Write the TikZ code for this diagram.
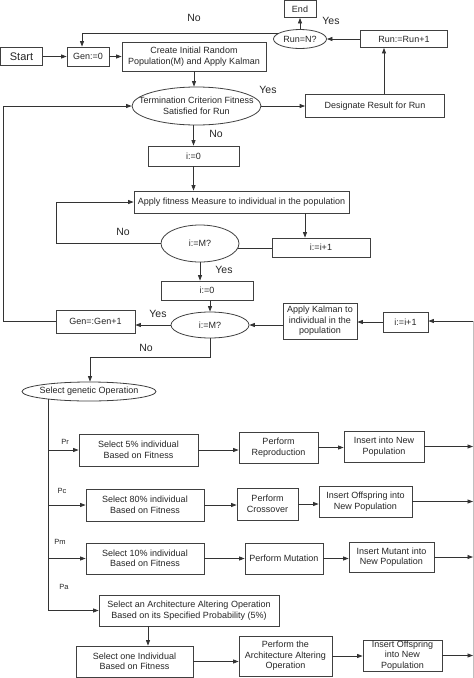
\documentclass[tikz,border=0pt]{standalone}
\usepackage{fontspec}
\setmainfont{Liberation Sans}
\usetikzlibrary{shapes.geometric,arrows.meta,calc}
\begin{document}
\begin{tikzpicture}[x=1pt,y=-1pt,
  every node/.style={font=\fontsize{9}{10.5}\selectfont, text=black!85},
  sz/.style 2 args={minimum width=#1pt, minimum height=#2pt},
  box/.style={draw=black!75, line width=0.8pt, fill=white, align=center, inner sep=0pt},
  ellip/.style={ellipse, draw=black!75, line width=0.8pt, fill=white, inner sep=0pt},
  txt/.style={align=center, inner sep=0pt},
  lbl/.style={font=\fontsize{10.5}{12}\selectfont, inner sep=0pt},
  plbl/.style={font=\fontsize{7.5}{9}\selectfont, inner sep=0pt},
  arr/.style={draw=black!80, line width=0.8pt, -{Triangle[length=5.5pt,width=4pt]}},
  ln/.style={draw=black!80, line width=0.8pt},
  rline/.style={draw=black!25, line width=0.8pt},
]
\useasboundingbox (0,0) rectangle (474,678);
\fill[white] (0,0) rectangle (474,678);

% ---------- top part ----------
\node[box, sz={32}{17}] (endb) at (300,9) {End};
\node[ellip, sz={53}{19}] (run) at (300,39) {};
\node[txt] (runt) at (run) {Run=N?};
\node[box, sz={87}{17}] (runinc) at (404,39) {Run:=Run+1};
\node[box, sz={42}{18}, font=\fontsize{11}{13}\selectfont] (start) at (21.5,56.5) {Start};
\node[box, sz={42}{19}] (gen0) at (88,56.5) {Gen:=0};
\node[box, sz={144}{29}] (create) at (194,56.5) {Create Initial Random\\Population(M) and Apply Kalman};
\node[ellip, sz={129}{38}] (term) at (196.5,106) {};
\node[txt] (termt) at (term) {Termination Criterion Fitness\\Satisfied for Run};
\node[box, sz={139}{23}] (desig) at (375,106) {Designate Result for Run};
\node[box, sz={91}{20}] (i0a) at (193.5,156) {i:=0};
\node[box, sz={215}{22}] (fit) at (241.5,202) {Apply fitness Measure to individual in the population};
\node[ellip, sz={78}{37}] (m1) at (200,243.5) {};
\node[txt] (m1t) at (m1) {i:=M?};
\node[box, sz={98}{19}] (iinc1) at (321,247.5) {i:=i+1};
\node[box, sz={92}{19}] (i0b) at (207,290.5) {i:=0};
\node[ellip, sz={78}{26}] (m2) at (210,325) {};
\node[txt] (m2t) at (m2) {i:=M?};
\node[box, sz={79}{23}] (genplus) at (95.5,321.5) {Gen=:Gen+1};
\node[box, sz={74}{36}] (kal) at (320,321) {Apply Kalman to\\individual in the\\population};
\node[box, sz={45}{20}] (iinc2) at (405.5,322) {i:=i+1};

% ---------- genetic operations ----------
\node[ellip, sz={134}{19}] (sel) at (89,391.5) {};
\node[txt] (selt) at (sel) {Select genetic Operation};
\node[box, sz={119}{32}] (s5) at (138.5,450) {Select 5\% individual\\Based on Fitness};
\node[box, sz={79}{31}] (prep) at (278.5,447.5) {Perform\\Reproduction};
\node[box, sz={80}{31}] (ins1) at (384,446.5) {Insert into New\\Population};
\node[box, sz={118}{32}] (s80) at (145,505) {Select 80\% individual\\Based on Fitness};
\node[box, sz={61}{32}] (pcross) at (267.5,504) {Perform\\Crossover};
\node[box, sz={93}{31}] (ins2) at (365.5,501.5) {Insert Offspring into\\New Population};
\node[box, sz={118}{31}] (s10) at (145,558.5) {Select 10\% individual\\Based on Fitness};
\node[box, sz={78}{31}] (pmut) at (284,558.5) {Perform Mutation};
\node[box, sz={85}{30}] (ins3) at (391.5,557) {Insert Mutant into\\New Population};
\node[box, sz={180}{31}] (arch) at (189,610.5) {Select an Architecture Altering Operation\\Based on its Specified Probability (5\%)};
\node[box, sz={117}{31}] (sone) at (134.5,661.5) {Select one Individual\\Based on Fitness};
\node[box, sz={93}{40}] (parch) at (285.5,656) {Perform the\\Architecture Altering\\Operation};
\node[box, sz={79}{31}] (ins4) at (402.5,655.5) {Insert Offspring\\into New\\Population};

% ---------- labels ----------
\node[lbl] (noA) at (194,18) {No};
\node[lbl] (yesA) at (331,21) {Yes};
\node[lbl] (yesB) at (268,90) {Yes};
\node[lbl] (noB) at (216,134) {No};
\node[lbl] (noC) at (123,232) {No};
\node[lbl] (yesC) at (224,270) {Yes};
\node[lbl] (yesD) at (158,314) {Yes};
\node[lbl] (noD) at (146,348) {No};
\node[plbl] (pr) at (65,442) {Pr};
\node[plbl] (pc) at (62,491) {Pc};
\node[plbl] (pm) at (60,542) {Pm};
\node[plbl] (pa) at (64,587) {Pa};

% ---------- helper coordinates ----------
\coordinate (cD) at (384,0);
\coordinate (cG) at (82,0);
\coordinate (cF) at (305,0);
\coordinate (cL) at (56,0);
\coordinate (cLL) at (3,0);
\coordinate (R) at (473,321);
\coordinate (Rb) at (473,678);
\coordinate (cN2) at (90,357);
\coordinate (Ttop) at (48,399);
\coordinate (Tend) at (48,610.5);
\coordinate (cA) at (148,0);

% ---------- connectors ----------
\draw[arr] (start) -- (gen0);
\draw[arr] (gen0) -- (create);
\draw[arr] (create.south) -- (create.south |- term.north);
\draw[arr] (term) -- (desig);
\draw[arr] (desig.north -| cD) -- (runinc.south -| cD);
\draw[arr] (runinc) -- (run);
\draw[arr] (run) -- (endb);
\draw[arr] (run.165) -- (run.165 -| cG) -- (gen0.north -| cG);
\draw[arr] (term.south -| i0a.north) -- (i0a.north);
\draw[arr] (i0a.south) -- (i0a.south |- fit.north);
\draw[arr] (fit.south -| cF) -- (iinc1.north -| cF);
\draw[ln] (m1.-8) -- (m1.-8 -| iinc1.west);
\draw[arr] (m1.west) -- (m1.west -| cL) |- (fit.west);
\draw[arr] (m1.south) -- (m1.south |- i0b.north);
\draw[arr] (i0b.south -| m2.north) -- (m2.north);
\draw[arr] (m2.west) -- (m2.west -| genplus.east);
\draw[arr] (genplus.west) -- (genplus.west -| cLL) |- (term.west);
\draw[arr] (kal.west |- m2.east) -- (m2.east);
\draw[arr] (iinc2.west) -- (iinc2.west -| kal.east);
\draw[rline] (Rb) -- (R);
\draw[arr] (R) -- (R -| iinc2.east);
\draw[arr] (m2.south) |- (cN2) -- (cN2 |- sel.north);

\draw[ln] (Ttop) -- (Tend);
\draw[arr] (Ttop |- s5.west) -- (s5.west);
\draw[arr] (s5.east) -- (s5.east -| prep.west);
\draw[arr] (prep.east) -- (prep.east -| ins1.west);
\draw[arr] (ins1.east) -- (ins1.east -| R);
\draw[arr] (Ttop |- s80.west) -- (s80.west);
\draw[arr] (s80.east) -- (s80.east -| pcross.west);
\draw[arr] (pcross.east) -- (pcross.east -| ins2.west);
\draw[arr] (ins2.east) -- (ins2.east -| R);
\draw[arr] (Ttop |- s10.west) -- (s10.west);
\draw[arr] (s10.east) -- (s10.east -| pmut.west);
\draw[arr] (pmut.east) -- (pmut.east -| ins3.west);
\draw[arr] (ins3.east) -- (ins3.east -| R);
\draw[arr] (Tend) -- (arch.west);
\draw[arr] (arch.south -| cA) -- (sone.north -| cA);
\draw[arr] (sone.east) -- (sone.east -| parch.west);
\draw[arr] (parch.east) -- (parch.east -| ins4.west);
\draw[arr] (ins4.east) -- (ins4.east -| R);
\end{tikzpicture}
\end{document}
